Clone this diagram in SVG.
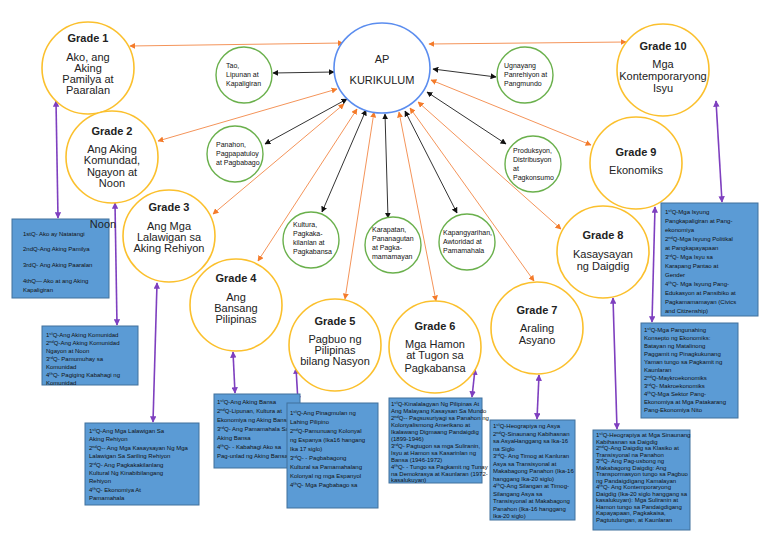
<svg xmlns="http://www.w3.org/2000/svg" width="768" height="543" viewBox="0 0 768 543">
<style>
.g{fill:#fff;stroke:#fbc02d;stroke-width:1.6}
.t{fill:#fff;stroke:#6ab04c;stroke-width:1.4}
.ap{fill:#fff;stroke:#5b8def;stroke-width:1.6}
.gt{font-family:"Liberation Sans",Arial,sans-serif;font-size:11px;font-weight:bold;fill:#222;text-anchor:middle}
.gs{font-family:"Liberation Sans",Arial,sans-serif;font-size:11px;fill:#222;text-anchor:middle}
.tt{font-family:"Liberation Sans",Arial,sans-serif;font-size:7px;fill:#111}
.bx{fill:#5b9bd5;stroke:#41719c;stroke-width:1}
.bt{font-family:"Liberation Sans",Arial,sans-serif;font-size:6px;fill:#111}
.o{stroke:#f4945a;stroke-width:1;fill:none;marker-start:url(#mo);marker-end:url(#mo)}
.k{stroke:#333;stroke-width:1;fill:none;marker-start:url(#mk);marker-end:url(#mk)}
.p{stroke:#7e3fbf;stroke-width:1.6;fill:none;marker-start:url(#mp);marker-end:url(#mp)}
</style>
<defs>
<marker id="mo" viewBox="0 0 10 10" refX="9" refY="5" markerWidth="6" markerHeight="6" orient="auto-start-reverse"><path d="M0,0L10,5L0,10z" fill="#f47b2a"/></marker>
<marker id="mk" viewBox="0 0 10 10" refX="9" refY="5" markerWidth="6" markerHeight="6" orient="auto-start-reverse"><path d="M0,0L10,5L0,10z" fill="#111"/></marker>
<marker id="mp" viewBox="0 0 10 10" refX="9" refY="5" markerWidth="4" markerHeight="4" orient="auto-start-reverse"><path d="M0,0L10,5L0,10z" fill="#7e3fbf"/></marker>
</defs>
<rect width="768" height="543" fill="#fff"/>
<g id="connectors">
<line class="o" x1="130" y1="46" x2="343" y2="43"/>
<line class="o" x1="429" y1="44" x2="626" y2="42"/>
<line class="o" x1="158" y1="141" x2="337" y2="89"/>
<line class="o" x1="213" y1="214" x2="344" y2="104"/>
<line class="o" x1="258" y1="261" x2="357" y2="109"/>
<line class="o" x1="345" y1="299" x2="374" y2="112"/>
<line class="o" x1="436" y1="301" x2="399" y2="112"/>
<line class="o" x1="534" y1="281" x2="410" y2="108"/>
<line class="o" x1="561" y1="229" x2="418" y2="102"/>
<line class="o" x1="591" y1="145" x2="431" y2="80"/>
<line class="k" x1="273" y1="73" x2="334" y2="72"/>
<line class="k" x1="433" y1="69" x2="496" y2="77"/>
<line class="k" x1="265" y1="144" x2="347" y2="99"/>
<line class="k" x1="506" y1="144" x2="427" y2="92"/>
<line class="k" x1="322" y1="212" x2="366" y2="110"/>
<line class="k" x1="385" y1="114" x2="388" y2="218"/>
<line class="k" x1="405" y1="111" x2="457" y2="213"/>
<line class="p" x1="56" y1="101" x2="58" y2="218"/>
<line class="p" x1="115" y1="203" x2="117" y2="325"/>
<line class="p" x1="157" y1="283" x2="153" y2="422"/>
<line class="p" x1="233" y1="352" x2="235" y2="393"/>
<line class="p" x1="296" y1="368" x2="298" y2="402"/>
<line class="p" x1="475" y1="369" x2="472" y2="397"/>
<line class="p" x1="539" y1="375" x2="537" y2="419"/>
<line class="p" x1="613" y1="298" x2="617" y2="429"/>
<line class="p" x1="655" y1="207" x2="652" y2="322"/>
<line class="p" x1="716" y1="101" x2="722" y2="202"/>
</g>
<g id="ap"><ellipse class="ap" cx="382" cy="68" rx="48" ry="45"/>
<text class="gs" x="382" y="63" font-size="10">AP</text><text class="gs" x="382" y="84" font-size="10">KURIKULUM</text></g>
<g id="tao"><circle class="t" cx="244" cy="75" r="28"/><text class="tt" x="226"><tspan x="226" y="68">Tao,</tspan><tspan x="226" y="77">Lipunan at</tspan><tspan x="226" y="86">Kapaligiran</tspan></text></g>
<g id="ugnayang"><circle class="t" cx="525" cy="75" r="28"/><text class="tt"><tspan x="504" y="68">Ugnayang</tspan><tspan x="504" y="77">Panrehiyon at</tspan><tspan x="504" y="86">Pangmundo</tspan></text></g>
<g id="panahon"><circle class="t" cx="235" cy="154" r="28"/><text class="tt"><tspan x="216" y="147">Panahon,</tspan><tspan x="216" y="156">Pagpapatuloy</tspan><tspan x="216" y="165">at Pagbabago</tspan></text></g>
<g id="produksyon"><circle class="t" cx="533" cy="164" r="28"/><text class="tt"><tspan x="513" y="153">Produksyon,</tspan><tspan x="513" y="162">Distribusyon</tspan><tspan x="513" y="171">at</tspan><tspan x="513" y="180">Pagkonsumo</tspan></text></g>
<g id="kultura"><circle class="t" cx="311" cy="240" r="28"/><text class="tt"><tspan x="293" y="227">Kultura,</tspan><tspan x="293" y="236">Pagkaka-</tspan><tspan x="293" y="245">kilanlan at</tspan><tspan x="293" y="254">Pagkabansa</tspan></text></g>
<g id="karapatan"><circle class="t" cx="393" cy="245" r="28"/><text class="tt"><tspan x="372" y="232">Karapatan,</tspan><tspan x="372" y="241">Pananagutan</tspan><tspan x="372" y="250">at Pagka-</tspan><tspan x="372" y="259">mamamayan</tspan></text></g>
<g id="kapangyarihan"><circle class="t" cx="467" cy="242" r="28"/><text class="tt"><tspan x="443" y="235">Kapangyarihan,</tspan><tspan x="443" y="244">Awtoridad at</tspan><tspan x="443" y="253">Pamamahala</tspan></text></g>
<g id="g1"><circle class="g" cx="88" cy="68" r="46"/><text class="gt" x="88" y="42">Grade 1</text><text class="gs"><tspan x="88" y="61">Ako, ang</tspan><tspan x="88" y="72">Aking</tspan><tspan x="88" y="83">Pamilya at</tspan><tspan x="88" y="94">Paaralan</tspan></text></g>
<g id="g2"><circle class="g" cx="112" cy="157" r="46"/><text class="gt" x="112" y="135">Grade 2</text><text class="gs"><tspan x="112" y="153">Ang Aking</tspan><tspan x="112" y="164">Komundad,</tspan><tspan x="112" y="176">Ngayon at</tspan><tspan x="112" y="187">Noon</tspan></text></g>
<g id="g3"><circle class="g" cx="169" cy="236" r="46"/><text class="gt" x="169" y="211">Grade 3</text><text class="gs"><tspan x="169" y="230">Ang Mga</tspan><tspan x="169" y="241">Lalawigan sa</tspan><tspan x="169" y="252">Aking Rehiyon</tspan></text></g>
<g id="g4"><circle class="g" cx="236" cy="305" r="46"/><text class="gt" x="236" y="282">Grade 4</text><text class="gs"><tspan x="236" y="301">Ang</tspan><tspan x="236" y="312">Bansang</tspan><tspan x="236" y="323">Pilipinas</tspan></text></g>
<g id="g5"><circle class="g" cx="335" cy="345" r="46"/><text class="gt" x="335" y="325">Grade 5</text><text class="gs"><tspan x="335" y="343">Pagbuo ng</tspan><tspan x="335" y="354">Pilipinas</tspan><tspan x="335" y="365">bilang Nasyon</tspan></text></g>
<g id="g6"><circle class="g" cx="435" cy="347" r="46"/><text class="gt" x="435" y="330">Grade 6</text><text class="gs"><tspan x="435" y="348">Mga Hamon</tspan><tspan x="435" y="359">at Tugon sa</tspan><tspan x="435" y="372">Pagkabansa</tspan></text></g>
<g id="g7"><circle class="g" cx="537" cy="328" r="46"/><text class="gt" x="537" y="314">Grade 7</text><text class="gs"><tspan x="537" y="332">Araling</tspan><tspan x="537" y="344">Asyano</tspan></text></g>
<g id="g8"><circle class="g" cx="603" cy="252" r="46"/><text class="gt" x="603" y="239">Grade 8</text><text class="gs"><tspan x="603" y="258">Kasaysayan</tspan><tspan x="603" y="270">ng Daigdig</tspan></text></g>
<g id="g9"><circle class="g" cx="636" cy="163" r="46"/><text class="gt" x="636" y="156">Grade 9</text><text class="gs" x="636" y="174">Ekonomiks</text></g>
<g id="g10"><circle class="g" cx="663" cy="70" r="46"/><text class="gt" x="663" y="50">Grade 10</text><text class="gs"><tspan x="663" y="68">Mga</tspan><tspan x="663" y="80">Kontemporaryong</tspan><tspan x="663" y="92">Isyu</tspan></text></g>
<g id="b1"><rect class="bx" x="12" y="219" width="97" height="79"/><text class="bt" font-size="6.6px"><tspan x="23" y="236">1stQ- Ako ay Natatangi</tspan><tspan x="23" y="251">2ndQ-Ang Aking Pamilya</tspan><tspan x="23" y="267">3rdQ- Ang Aking Paaralan</tspan><tspan x="23" y="283">4thQ— Ako at ang Aking</tspan><tspan x="23" y="292">Kapaligiran</tspan></text></g>
<text class="gs" x="103" y="228" font-size="10">Noon</text>
<g id="b2"><rect class="bx" x="42" y="326" width="96" height="59"/><text class="bt" font-size="6.2px"><tspan x="46" y="337">1ˢᵗQ-Ang Aking Komunidad</tspan><tspan x="46" y="345">2ⁿᵈQ-Ang Aking Komunidad</tspan><tspan x="46" y="353">Ngayon at Noon</tspan><tspan x="46" y="361">3ʳᵈQ- Pamumuhay sa</tspan><tspan x="46" y="369">Komunidad</tspan><tspan x="46" y="377">4ᵗʰQ- Pagiging Kabahagi ng</tspan><tspan x="46" y="385">Komunidad</tspan></text></g>
<g id="b3"><rect class="bx" x="85" y="423" width="114" height="82"/><text class="bt"><tspan x="89" y="433">1ˢᵗQ-Ang Mga Lalawigan Sa</tspan><tspan x="89" y="441">Aking Rehiyon</tspan><tspan x="89" y="450">2ⁿᵈQ-- Ang Mga Kasaysayan Ng Mga</tspan><tspan x="89" y="458">Lalawigan Sa Sariling Rehiyon</tspan><tspan x="89" y="467">3ʳᵈQ- Ang Pagkakakilanlang</tspan><tspan x="89" y="475">Kultural Ng Kinabibilangang</tspan><tspan x="89" y="483">Rehiyon</tspan><tspan x="89" y="492">4ᵗʰQ- Ekonomiya At</tspan><tspan x="89" y="500">Pamamahala</tspan></text></g>
<g id="b4"><rect class="bx" x="214" y="394" width="86" height="74"/><text class="bt" font-size="5.6px"><tspan x="217" y="404">1ˢᵗQ-Ang Aking Bansa</tspan><tspan x="217" y="413">2ⁿᵈQ-Lipunan, Kultura at</tspan><tspan x="217" y="422">Ekonomiya ng Aking Bansa</tspan><tspan x="217" y="431">3ʳᵈQ- Ang Pamamahala Sa</tspan><tspan x="217" y="440">Aking Bansa</tspan><tspan x="217" y="449">4ᵗʰQ- - Kabahagi Ako sa</tspan><tspan x="217" y="458">Pag-unlad ng Aking Bansa</tspan></text></g>
<g id="b5"><rect class="bx" x="287" y="403" width="91" height="105"/><text class="bt" font-size="5.7px"><tspan x="290" y="415">1ˢᵗQ-Ang Pinagmulan ng</tspan><tspan x="290" y="424">Lahing Pilipino</tspan><tspan x="290" y="433">2ⁿᵈQ-Pamunuang Kolonyal</tspan><tspan x="290" y="442">ng Espanya (Ika16 hangang</tspan><tspan x="290" y="451">Ika 17 siglo)</tspan><tspan x="290" y="460">3ʳᵈQ- - Pagbabagong</tspan><tspan x="290" y="469">Kultural sa Pamamahalang</tspan><tspan x="290" y="478">Kolonyal ng mga Espanyol</tspan><tspan x="290" y="487">4ᵗʰQ- Mga Pagbabago sa</tspan></text></g>
<g id="b6"><rect class="bx" x="389" y="398" width="93" height="85"/><text class="bt" font-size="4.5px"><tspan x="391" y="406">1ˢᵗQ-Kinalalagyan Ng Pilipinas At</tspan><tspan x="391" y="413">Ang Malayang Kasaysan Sa Mundo</tspan><tspan x="391" y="420">2ⁿᵈQ-- Pagsusuriyagi sa Panahon ng</tspan><tspan x="391" y="427">Kolonyalismong Amerikano at</tspan><tspan x="391" y="434">Ikalawang Digmaang Pandaigdig</tspan><tspan x="391" y="441">(1899-1946)</tspan><tspan x="391" y="448">3ʳᵈQ- Pagtugon sa mga Suliranin,</tspan><tspan x="391" y="455">Isyu at Hamon sa Kasarinlan ng</tspan><tspan x="391" y="462">Bansa (1946-1972)</tspan><tspan x="391" y="469">4ᵗʰQ- - Tungo sa Pagkamit ng Tunay</tspan><tspan x="391" y="476">na Demokrasya at Kaunlaran (1972-</tspan><tspan x="391" y="482">kasalukuyan)</tspan></text></g>
<g id="b7"><rect class="bx" x="490" y="420" width="85" height="100"/><text class="bt" font-size="5.3px"><tspan x="493" y="428">1ˢᵗQ-Heograpiya ng Asya</tspan><tspan x="493" y="435.5">2ⁿᵈQ-Sinaunang Kabihasnan</tspan><tspan x="493" y="443">sa AsyaHanggang sa Ika-16</tspan><tspan x="493" y="450.5">na Siglo</tspan><tspan x="493" y="458">3ʳᵈQ- Ang Timog at Kanluran</tspan><tspan x="493" y="465.5">Asya sa Transisyonal at</tspan><tspan x="493" y="473">Makabagong Panahon (Ika-16</tspan><tspan x="493" y="480.5">hanggang Ika-20 siglo)</tspan><tspan x="493" y="488">4ᵗʰQ-Ang Silangan at Timog-</tspan><tspan x="493" y="495.5">Silangang Asya sa</tspan><tspan x="493" y="503">Transisyonal at Makabagong</tspan><tspan x="493" y="510.5">Panahon (Ika-16 hanggang</tspan><tspan x="493" y="518">Ika-20 siglo)</tspan></text></g>
<g id="b8"><rect class="bx" x="593" y="430" width="97" height="100"/><text class="bt" font-size="4.9px"><tspan x="596" y="437">1ˢᵗQ-Heograpiya at Mga Sinaunang</tspan><tspan x="596" y="443.5">Kabihasnan sa Daigdig</tspan><tspan x="596" y="450">2ⁿᵈQ-Ang Daigdig sa Klasiko at</tspan><tspan x="596" y="456.5">Transisyonal na Panahon</tspan><tspan x="596" y="463">3ʳᵈQ- Ang Pag-usbong ng</tspan><tspan x="596" y="469.5">Makabagong Daigdig: Ang</tspan><tspan x="596" y="476">Transpormasyon tungo sa Pagbuo</tspan><tspan x="596" y="482.5">ng Pandaigdigang Kamalayan</tspan><tspan x="596" y="489">4ᵗʰQ- Ang Kontemporaryong</tspan><tspan x="596" y="495.5">Daigdig (Ika-20 siglo hanggang sa</tspan><tspan x="596" y="502">kasalukuyan): Mga Suliranin at</tspan><tspan x="596" y="508.5">Hamon tungo sa Pandaigdigang</tspan><tspan x="596" y="515">Kapayapaan, Pagkakaisa,</tspan><tspan x="596" y="521.5">Pagtutulungan, at Kaunlaran</tspan></text></g>
<g id="b9"><rect class="bx" x="641" y="323" width="97" height="95"/><text class="bt" font-size="5.8px"><tspan x="644" y="332">1ˢᵗQ-Mga Pangunahing</tspan><tspan x="644" y="340">Konsepto ng Ekonomiks:</tspan><tspan x="644" y="348">Batayan ng Matalinong</tspan><tspan x="644" y="356">Paggamit ng Pinagkukunang</tspan><tspan x="644" y="364">Yaman tungo sa Pagkamit ng</tspan><tspan x="644" y="372">Kaunlaran</tspan><tspan x="644" y="380">2ⁿᵈQ-Maykroekonomiks</tspan><tspan x="644" y="388">3ʳᵈQ- Makroekonomiks</tspan><tspan x="644" y="396">4ᵗʰQ-Mga Sektor Pang-</tspan><tspan x="644" y="404">Ekonomiya at Mga Patakarang</tspan><tspan x="644" y="412">Pang-Ekonomiya Nito</tspan></text></g>
<g id="b10"><rect class="bx" x="661" y="203" width="97" height="113"/><text class="bt" font-size="6.2px"><tspan x="665" y="214">1ˢᵗQ-Mga Isyung</tspan><tspan x="665" y="223">Pangkapaligiran at Pang-</tspan><tspan x="665" y="232">ekonomiya</tspan><tspan x="665" y="241">2ⁿᵈQ-Mga Isyung Politikal</tspan><tspan x="665" y="250">at Pangkapayapaan</tspan><tspan x="665" y="259">3ʳᵈQ- Mga Isyu sa</tspan><tspan x="665" y="268">Karapang Pantao at</tspan><tspan x="665" y="277">Gender</tspan><tspan x="665" y="286">4ᵗʰQ- Mga Isyung Pang-</tspan><tspan x="665" y="295">Edukasyon at Pansibiko at</tspan><tspan x="665" y="304">Pagkamamamayan (Civics</tspan><tspan x="665" y="313">and Citizenship)</tspan></text></g>
</svg>
